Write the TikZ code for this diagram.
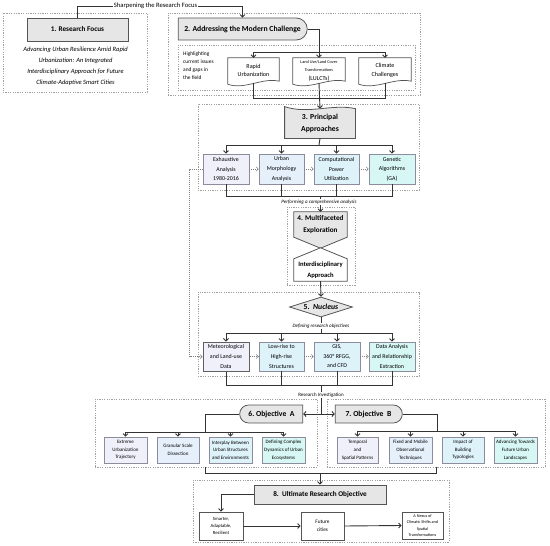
\documentclass[tikz,border=0pt]{standalone}
\usepackage{fontspec}
\setmainfont{Carlito}
\usetikzlibrary{arrows.meta,shapes.geometric,shapes.misc,calc,backgrounds}
\definecolor{lnc}{HTML}{333333}
\definecolor{dsh}{HTML}{A0A0A0}
\definecolor{tfill}{HTML}{E6E6E6}
\definecolor{tdraw}{HTML}{555555}
\definecolor{bdraw}{HTML}{8C8C9C}
\definecolor{clav}{HTML}{F0F0FB}
\definecolor{cblu}{HTML}{E5F0FB}
\definecolor{ccya}{HTML}{DEF2FA}
\definecolor{ccyn}{HTML}{D6F7F4}
\tikzset{
 outerbox/.style={draw=dsh, line width=0.6pt, dash pattern=on 1.2pt off 1.2pt, inner sep=0pt},
 titlebox/.style={draw=tdraw, fill=tfill, line width=0.8pt, inner sep=0pt, font=\fontsize{7.7}{9}\selectfont\bfseries, align=center},
 subbox/.style={draw=bdraw, line width=0.7pt, inner sep=0pt, align=center, font=\fontsize{5.9}{9.6}\selectfont},
 objbox/.style={subbox, font=\fontsize{5}{7.7}\selectfont},
 finbox/.style={draw=tdraw, fill=white, line width=0.8pt, inner sep=0pt, align=center, font=\fontsize{4.7}{7.2}\selectfont},
 cline/.style={draw=lnc, line width=0.9pt},
 arr/.style={cline, -{Straight Barb[length=2.4pt,width=5pt]}},
 dotarr/.style={draw=dsh!80!black, line width=0.6pt, dash pattern=on 1pt off 1pt, -{Straight Barb[length=2pt,width=4pt]}},
 lbl/.style={fill=white, inner sep=1pt, font=\fontsize{5}{5}\selectfont\itshape},
 docbox/.style={inner sep=0pt, align=center, font=\fontsize{6.1}{8.5}\selectfont},
}
\newcommand{\docshape}[1]{\draw[draw=tdraw, line width=0.7pt] (#1.north west) -- (#1.north east) -- ($(#1.south east)+(0,-2)$) .. controls ($(#1.south west)!0.67!(#1.south east)+(0,-6)$) and ($(#1.south west)!0.33!(#1.south east)+(0,7)$) .. ($(#1.south west)+(0,1)$) -- cycle;}
\begin{document}
\begin{tikzpicture}[x=1pt,y=-1pt]
\useasboundingbox (0,0) rectangle (550,546);
% outer frames
\node[outerbox, minimum width=144, minimum height=79] (o1) at (75,52.5) {};
\node[outerbox, minimum width=252, minimum height=82] (o2) at (294,54) {};
\node[outerbox, minimum width=237, minimum height=45] (in2) at (296.5,67.5) {};
\node[outerbox, minimum width=221, minimum height=86] (o3) at (308.5,147) {};
\node[outerbox, minimum width=68, minimum height=78] (o4) at (321,246) {};
\node[outerbox, minimum width=221, minimum height=84] (o5) at (308.5,334) {};
\node[outerbox, minimum width=222, minimum height=68] (o6) at (206,433) {};
\node[outerbox, minimum width=218, minimum height=68] (o7) at (436,433) {};
\node[outerbox, minimum width=256, minimum height=62] (o8) at (321,511) {};

% box 1
\node[titlebox, font=\fontsize{7.2}{9}\selectfont\bfseries, minimum width=101, minimum height=23] (t1) at (77.5,29.5) {1. Research Focus};
\node[align=center, inner sep=0pt, font=\fontsize{6.5}{11}\selectfont\itshape] (d1) at (75.5,66.5) {Advancing Urban Resilience Amid Rapid\\Urbanization: An Integrated\\Interdisciplinary Approach for Future\\Climate-Adaptive Smart Cities};
\node[inner sep=1pt, font=\fontsize{6.6}{8}\selectfont] (sharp) at (155.5,6) {Sharpening the Research Focus};

% box 2
\node[titlebox, rounded rectangle, rounded rectangle west arc=none, minimum width=129, minimum height=22] (t2) at (242.5,29) {2. Addressing the Modern Challenge};
\node[anchor=west, align=left, inner sep=0pt, font=\fontsize{5.4}{7.8}\selectfont] (hl) at (183,65.5) {Highlighting\\current issues\\and gaps in\\the field};
\node[docbox, minimum width=51, minimum height=25] (rapid) at (253.5,70.5) {Rapid\\Urbanization};
\node[docbox, minimum width=52, minimum height=25] (lulc) at (319,70.5) {{\fontsize{4.3}{6.5}\selectfont Land Use/Land Cover}\\{\fontsize{4.3}{6.5}\selectfont Transformations}\\(LULCTs)};
\node[docbox, minimum width=52, minimum height=25] (climate) at (385,70.5) {Climate\\Challenges};
\docshape{rapid}
\docshape{lulc}
\docshape{climate}

\draw[cline] (t1.north) |- (sharp.west);
\draw[arr] (sharp.east) -| (t2.north);
\coordinate (b2) at (319,52);
\draw[arr] (t2.east) -| (lulc.north);
\draw[arr] (b2) -| (rapid.north);
\draw[arr] (b2) -| (climate.north);

% box 3
\node[titlebox, fill=none, draw=none, font=\fontsize{7.7}{11.5}\selectfont\bfseries, minimum width=70, minimum height=29] (t3) at (320,123.5) {3. Principal\\Approaches};
\begin{scope}[on background layer]
\filldraw[draw=tdraw, fill=tfill, line width=0.8pt] ($(t3.north west)+(0,-2)$) .. controls ($(t3.north west)!0.33!(t3.north east)+(0,6)$) and ($(t3.north west)!0.67!(t3.north east)+(0,-5)$) .. (t3.north east) -- (t3.south east) -- (t3.south west) -- cycle;
\end{scope}
\coordinate (b3) at (319,98);
\draw[cline] (rapid.south) |- (b3);
\draw[cline] (climate.south) |- (b3);
\draw[arr] (lulc.south) -- (t3.north);

\node[subbox, fill=clav, minimum width=46, minimum height=30] (pa1) at (226,169) {Exhaustive\\Analysis\\1980-2016};
\node[subbox, fill=cblu, minimum width=45, minimum height=30] (pa2) at (281.5,169) {Urban\\Morphology\\Analysis};
\node[subbox, fill=ccya, minimum width=45, minimum height=30] (pa3) at (336.5,169) {Computational\\Power\\Utilization};
\node[subbox, fill=ccyn, minimum width=46, minimum height=30] (pa4) at (392,169) {Genetic\\Algorithms\\(GA)};
\coordinate (b4) at (319,145);
\draw[cline] (t3.south) -- (b4);
\foreach \n in {pa1,pa2,pa3,pa4} \draw[arr] (b4) -| (\n.north);
\draw[dotarr] (pa1.east) -- (pa2.west);
\draw[dotarr] (pa2.east) -- (pa3.west);
\draw[dotarr] (pa3.east) -- (pa4.west);
\coordinate (b5) at (320.5,196);
\foreach \n in {pa1,pa2,pa3,pa4} \draw[cline] (\n.south) |- (b5);

% box 4
\node[inner sep=0pt, align=center, font=\fontsize{7.2}{11.5}\selectfont\bfseries, minimum width=53, minimum height=25] (m4) at (320.5,224.5) {4. Multifaceted\\Exploration};
\node[inner sep=0pt, align=center, font=\fontsize{6.6}{10.5}\selectfont\bfseries, minimum width=53, minimum height=22] (ia) at (320.5,270) {Interdisciplinary\\Approach};
\begin{scope}[on background layer]
\filldraw[draw=tdraw, fill=tfill, line width=0.8pt] (m4.north west) -- (m4.north east) -- (m4.south east) -- ($(m4.south)+(0,11)$) -- (m4.south west) -- cycle;
\filldraw[draw=tdraw, fill=white, line width=0.8pt] (ia.south west) -- (ia.north west) -- ($(ia.north)+(0,-11)$) -- (ia.north east) -- (ia.south east) -- cycle;
\end{scope}
\draw[arr] (b5) -- (m4.north);
\node[lbl] (perf) at (319,202) {Performing a comprehensive analysis};

% box 5
\node[draw=tdraw, fill=tfill, line width=0.8pt, diamond, aspect=3, minimum width=63, minimum height=20, inner sep=0pt, font=\fontsize{7.7}{9}\selectfont\bfseries] (dia) at (321,307) {5.\ \ \textit{Nucleus}};
\draw[arr] (ia.south) -- (dia.north);
\node[subbox, fill=clav, draw=gray!75!black, line width=1pt, minimum width=46, minimum height=29] (nd1) at (226,356.5) {Meteorological\\and Land-use\\Data};
\node[subbox, fill=ccya, minimum width=45, minimum height=29] (nd2) at (281.5,356.5) {Low-rise to\\High-rise\\Structures};
\node[subbox, fill=ccya, minimum width=46, minimum height=29] (nd3) at (337,356.5) {GIS,\\360° RFGG,\\and CFD};
\node[subbox, fill=ccyn, minimum width=46, minimum height=29] (nd4) at (392,356.5) {Data Analysis\\and Relationship\\Extraction};
\coordinate (b6a) at (321,333);
\draw[cline] (dia.south) -- (b6a);
\foreach \n in {nd1,nd2,nd3,nd4} \draw[arr] (b6a) -| (\n.north);
\node[lbl] (defn) at (321,326) {Defining research objectives};
\draw[dotarr] (nd1.east) -- (nd2.west);
\draw[dotarr] (nd2.east) -- (nd3.west);
\draw[dotarr] (nd3.east) -- (nd4.west);
\draw[dotarr] (pa1.west) -- ++(-13,0) |- (nd1.west);
\coordinate (b10) at (321,385);
\foreach \n in {nd1,nd2,nd3,nd4} \draw[cline] (\n.south) |- (b10);

% objectives
\node[titlebox, rounded rectangle, rounded rectangle east arc=none, minimum width=63, minimum height=18] (t6) at (271.5,414) {6.\ Objective\ \ A};
\node[titlebox, rounded rectangle, rounded rectangle west arc=none, minimum width=67, minimum height=18] (t7) at (368.5,414) {7.\ Objective\ \ B};
\coordinate (b7) at (321,414);
\draw[cline] (b10) -- (b7);
\draw[arr] (b7) -- (t6.east);
\draw[arr] (b7) -- (t7.west);
\node[lbl, font=\fontsize{5}{5}\selectfont] (rinv) at (321,395) {Research Investigation};

\node[objbox, fill=clav, minimum width=43, minimum height=26] (oa1) at (125.5,450) {Extreme\\Urbanization\\Trajectory};
\node[objbox, fill=cblu, minimum width=42, minimum height=26] (oa2) at (178,450) {Granular Scale\\Dissection};
\node[objbox, fill=ccya, minimum width=43, minimum height=26] (oa3) at (230.5,450) {Interplay Between\\Urban Structures\\and Environments};
\node[objbox, fill=ccyn, minimum width=43, minimum height=26] (oa4) at (283.5,450) {Defining Complex\\Dynamics of Urban\\Ecosystems};
\coordinate (b8a) at (205,432);
\draw[cline] (t6.west) -| (b8a);
\foreach \n in {oa1,oa2,oa3,oa4} \draw[arr] (b8a) -| (\n.north);

\node[objbox, fill=clav, minimum width=41, minimum height=26] (ob1) at (357.5,450) {Temporal\\and\\Spatial Patterns};
\node[objbox, fill=cblu, minimum width=43, minimum height=26] (ob2) at (410.5,450) {Fixed and Mobile\\Observational\\Techniques};
\node[objbox, fill=ccya, minimum width=42, minimum height=26] (ob3) at (463,450) {Impact of\\Building\\Typologies};
\node[objbox, fill=ccyn, minimum width=43, minimum height=26] (ob4) at (515.5,450) {Advancing Towards\\Future Urban\\Landscapes};
\coordinate (b8b) at (437,431);
\draw[cline] (t7.east) -| (b8b);
\foreach \n in {ob1,ob2,ob3,ob4} \draw[arr] (b8b) -| (\n.north);

% box 8
\node[titlebox, font=\fontsize{7.2}{9}\selectfont\bfseries, minimum width=132, minimum height=19] (t8) at (320,494.5) {8.\ \ Ultimate Research Objective};
\coordinate (c6) at (205,467);
\coordinate (c7) at (436,467);
\coordinate (b9) at (320,473);
\draw[cline] (c6) |- (b9);
\draw[cline] (c7) |- (b9);
\draw[arr] (b9) -- (t8.north);
\node[finbox, minimum width=44, minimum height=28] (s1) at (221,526) {Smarter,\\Adaptable,\\Resilient};
\node[finbox, font=\fontsize{5.3}{8.5}\selectfont, minimum width=43, minimum height=28] (f1) at (322.5,526) {Future\\cities};
\node[finbox, font=\fontsize{4.2}{6.3}\selectfont, minimum width=41, minimum height=27] (nx) at (422.5,525.5) {A Nexus of\\Climatic Shifts and\\Spatial\\Transformations};
\draw[arr] (t8.west) -| (s1.north);
\draw[arr] (s1.east) -- (f1.west);
\draw[arr] (f1.east) -- (nx.west);
\end{tikzpicture}
\end{document}
